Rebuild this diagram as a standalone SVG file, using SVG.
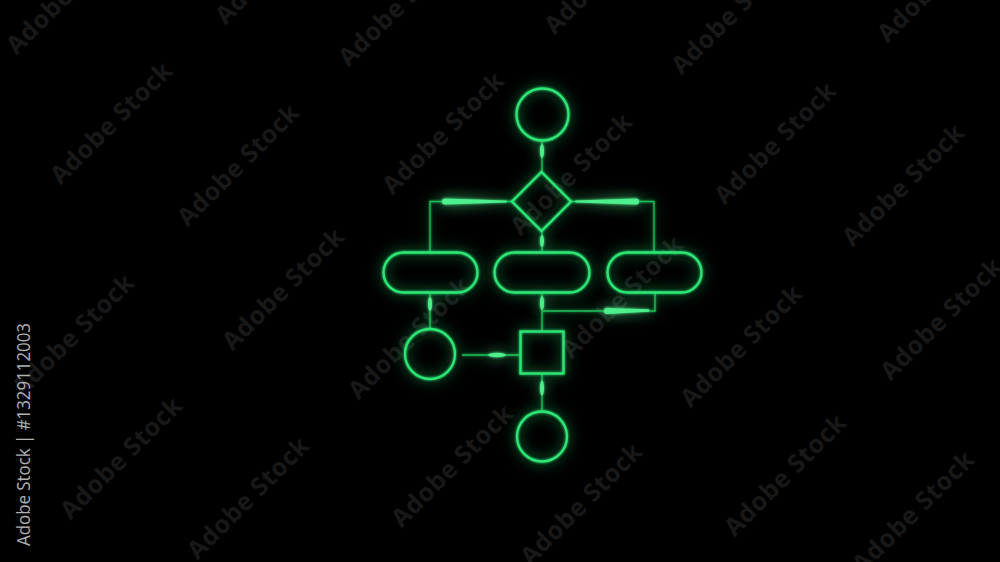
<svg xmlns="http://www.w3.org/2000/svg" width="1000" height="562" viewBox="0 0 1000 562">
<defs>
<filter id="glow" filterUnits="userSpaceOnUse" x="0" y="0" width="1000" height="562">
<feGaussianBlur in="SourceGraphic" stdDeviation="7" result="b1"/>
<feGaussianBlur in="SourceGraphic" stdDeviation="1.4" result="b2"/>
<feMerge><feMergeNode in="b1"/><feMergeNode in="b2"/><feMergeNode in="SourceGraphic"/></feMerge>
</filter>
<style>
.wm{font-family:"Open Sans","Liberation Sans",sans-serif;font-weight:bold;font-size:25px;fill:#181818;text-anchor:middle;dominant-baseline:central}
.id{font-family:"Open Sans","Liberation Sans",sans-serif;font-size:18px;fill:#b0b0b0}
.shape{fill:none;stroke:#2ee676;stroke-width:2.3}
.wire{fill:none;stroke:#1fbf5a;stroke-width:1.3}
.spark{fill:#4ef08c;stroke:none}
</style>
</defs>
<rect width="1000" height="562" fill="#000"/>
<g id="watermarks">
<text class="wm" transform="translate(66,-8) rotate(-45)" textLength="160">Adobe Stock</text>
<text class="wm" transform="translate(275,-38) rotate(-45)" textLength="160">Adobe Stock</text>
<text class="wm" transform="translate(398,4) rotate(-45)" textLength="160">Adobe Stock</text>
<text class="wm" transform="translate(604,-28) rotate(-45)" textLength="160">Adobe Stock</text>
<text class="wm" transform="translate(731,12) rotate(-45)" textLength="160">Adobe Stock</text>
<text class="wm" transform="translate(937,-20) rotate(-45)" textLength="160">Adobe Stock</text>
<text class="wm" transform="translate(110,122) rotate(-45)" textLength="160">Adobe Stock</text>
<text class="wm" transform="translate(237,164) rotate(-45)" textLength="160">Adobe Stock</text>
<text class="wm" transform="translate(442,132) rotate(-45)" textLength="160">Adobe Stock</text>
<text class="wm" transform="translate(570,173) rotate(-45)" textLength="160">Adobe Stock</text>
<text class="wm" transform="translate(774,142) rotate(-45)" textLength="160">Adobe Stock</text>
<text class="wm" transform="translate(902,184) rotate(-45)" textLength="160">Adobe Stock</text>
<text class="wm" transform="translate(72,334) rotate(-45)" textLength="160">Adobe Stock</text>
<text class="wm" transform="translate(282,288) rotate(-45)" textLength="160">Adobe Stock</text>
<text class="wm" transform="translate(408,337) rotate(-45)" textLength="160">Adobe Stock</text>
<text class="wm" transform="translate(621,296) rotate(-45)" textLength="160">Adobe Stock</text>
<text class="wm" transform="translate(740,345) rotate(-45)" textLength="160">Adobe Stock</text>
<text class="wm" transform="translate(940,318) rotate(-45)" textLength="160">Adobe Stock</text>
<text class="wm" transform="translate(120,457) rotate(-45)" textLength="160">Adobe Stock</text>
<text class="wm" transform="translate(247,497) rotate(-45)" textLength="160">Adobe Stock</text>
<text class="wm" transform="translate(451,465) rotate(-45)" textLength="160">Adobe Stock</text>
<text class="wm" transform="translate(580,503) rotate(-45)" textLength="160">Adobe Stock</text>
<text class="wm" transform="translate(784,474) rotate(-45)" textLength="160">Adobe Stock</text>
<text class="wm" transform="translate(912,511) rotate(-45)" textLength="160">Adobe Stock</text>
</g>
<text class="id" transform="translate(30,546) rotate(-90)" textLength="223" lengthAdjust="spacingAndGlyphs">Adobe Stock | #1329112003</text>
<g id="connectors" filter="url(#glow)">
<path class="wire" d="M542 141 V172"/>
<ellipse class="spark" cx="542" cy="151" rx="2" ry="7"/>
<path class="wire" d="M512 201.5 H430 V252"/>
<path class="spark" d="M445 198.5 L506 200.5 A1 1 0 0 1 506 202.5 L445 204.5 A3 3 0 0 1 445 198.5 Z"/>
<path class="wire" d="M571 201.5 H654 V252"/>
<path class="spark" d="M636 198.5 L576 200.5 A1 1 0 0 0 576 202.5 L636 204.5 A3 3 0 0 0 636 198.5 Z"/>
<path class="wire" d="M542 231 V252"/>
<ellipse class="spark" cx="542" cy="241" rx="2" ry="6"/>
<path class="wire" d="M430 293 V329"/>
<ellipse class="spark" cx="430" cy="304" rx="2" ry="7"/>
<path class="wire" d="M542 293 V331"/>
<ellipse class="spark" cx="542" cy="303" rx="2" ry="7"/>
<path class="wire" d="M655 293 V311 H542"/>
<path class="spark" d="M607 308 L648 309.2 A1.3 1.3 0 0 1 648 311.8 L607 314 A3 3 0 0 1 607 308 Z"/>
<path class="wire" d="M462 355 H520"/>
<ellipse class="spark" cx="497" cy="355" rx="9" ry="2.2"/>
<path class="wire" d="M542 374 V411"/>
<ellipse class="spark" cx="542" cy="388" rx="2" ry="7.5"/>
</g>
<g id="n-start" filter="url(#glow)"><circle class="shape" cx="542.5" cy="114.5" r="26"/></g>
<g id="n-decision" filter="url(#glow)"><polygon class="shape" points="541.5,172 571,201.5 541.5,231 512,201.5"/></g>
<g id="n-proc-left" filter="url(#glow)"><rect class="shape" x="383.5" y="252.5" width="94" height="40" rx="20"/></g>
<g id="n-proc-mid" filter="url(#glow)"><rect class="shape" x="494.5" y="252.5" width="95" height="40" rx="20"/></g>
<g id="n-proc-right" filter="url(#glow)"><rect class="shape" x="607.5" y="252.5" width="94" height="40" rx="20"/></g>
<g id="n-circle-left" filter="url(#glow)"><circle class="shape" cx="430" cy="354" r="25"/></g>
<g id="n-square" filter="url(#glow)"><rect class="shape" x="520.5" y="331.5" width="43" height="42"/></g>
<g id="n-end" filter="url(#glow)"><circle class="shape" cx="542" cy="436.5" r="25"/></g>
</svg>
